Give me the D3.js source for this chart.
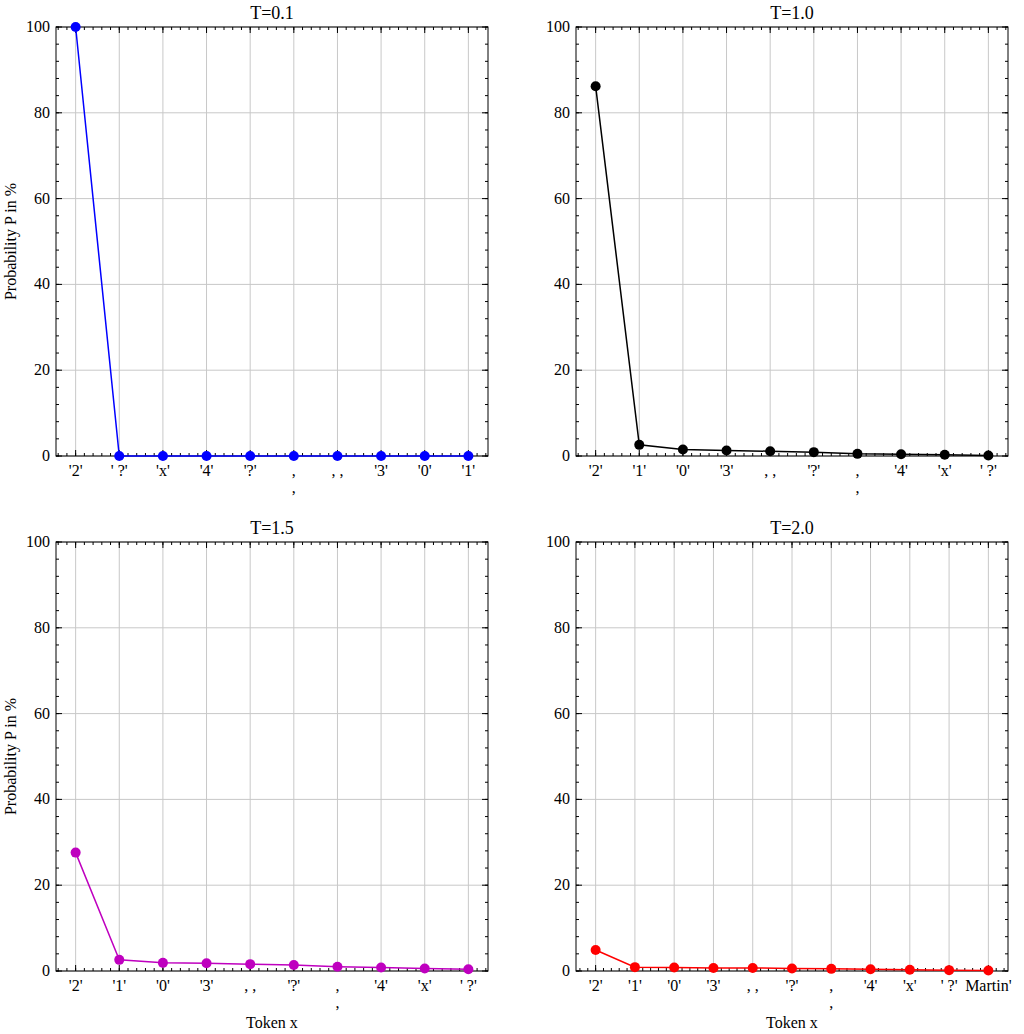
<!DOCTYPE html>
<html><head><meta charset="utf-8">
<script src="https://cdn.jsdelivr.net/npm/d3@7"></script>
<style>body{margin:0;background:#fff}text{font-family:"Liberation Serif",serif;fill:#000}</style>
</head><body>
<script>
// tokens & probabilities (%) per temperature
const tokens01 = ["'2'", "' ?'", "'x'", "'4'", "'?'", "NL", ", ,", "'3'", "'0'", "'1'"];
const probs01 = [100, 0, 0, 0, 0, 0, 0, 0, 0, 0];
const tokens10 = ["'2'", "'1'", "'0'", "'3'", ", ,", "'?'", "NL", "'4'", "'x'", "' ?'"];
const probs10 = [86.2, 2.6, 1.5, 1.3, 1.1, 0.9, 0.5, 0.4, 0.3, 0.1];
const tokens15 = ["'2'", "'1'", "'0'", "'3'", ", ,", "'?'", "NL", "'4'", "'x'", "' ?'"];
const probs15 = [27.6, 2.6, 1.9, 1.8, 1.6, 1.4, 1.0, 0.8, 0.6, 0.4];
const tokens20 = ["'2'", "'1'", "'0'", "'3'", ", ,", "'?'", "NL", "'4'", "'x'", "' ?'", "Martin'"];
const probs20 = [4.9, 0.9, 0.8, 0.7, 0.7, 0.6, 0.5, 0.4, 0.3, 0.2, 0.1];
const yTicks = [0, 20, 40, 60, 80, 100];

const panels = [
  {title: "T=0.1", tokens: tokens01, probs: probs01, color: "#0000ff", x0: 56, y0: 27, ylab: true, xlab: false},
  {title: "T=1.0", tokens: tokens10, probs: probs10, color: "#000000", x0: 576, y0: 27, ylab: false, xlab: false},
  {title: "T=1.5", tokens: tokens15, probs: probs15, color: "#bf00bf", x0: 56, y0: 542, ylab: true, xlab: true},
  {title: "T=2.0", tokens: tokens20, probs: probs20, color: "#ff0000", x0: 576, y0: 542, ylab: false, xlab: true}
];
const pw = 432, ph = 429;
const fs = 16;

const svg = d3.select("body").append("svg").attr("width", 1024).attr("height", 1034);

panels.forEach(p => {
  const g = svg.append("g").attr("transform", `translate(${p.x0},${p.y0})`);
  const n = p.tokens.length;
  const pad = 0.05 * (n - 1);
  const x = d3.scaleLinear().domain([-pad, n - 1 + pad]).range([0, pw]);
  const y = d3.scaleLinear().domain([0, 100]).range([ph, 0]);

  // grid
  g.selectAll(".gx").data(d3.range(n)).join("line")
    .attr("x1", d => x(d)).attr("x2", d => x(d)).attr("y1", 0).attr("y2", ph)
    .attr("stroke", "#c8c8c8").attr("stroke-width", 1);
  g.selectAll(".gy").data(yTicks).join("line")
    .attr("x1", 0).attr("x2", pw).attr("y1", d => y(d)).attr("y2", d => y(d))
    .attr("stroke", "#c8c8c8").attr("stroke-width", 1);

  // ticks (inward, all sides)
  const minorY = d3.range(0, 101, 4);
  [0, pw].forEach(xx => {
    const dir = xx === 0 ? 1 : -1;
    g.selectAll(null).data(minorY).join("line")
      .attr("x1", xx).attr("x2", xx + dir * 3).attr("y1", d => y(d)).attr("y2", d => y(d)).attr("stroke", "#000");
    g.selectAll(null).data(yTicks).join("line")
      .attr("x1", xx).attr("x2", xx + dir * 6).attr("y1", d => y(d)).attr("y2", d => y(d)).attr("stroke", "#000");
  });
  const minorX = d3.range(Math.ceil(-pad * 5) / 5, n - 1 + pad, 0.2);
  [0, ph].forEach(yy => {
    const dir = yy === 0 ? 1 : -1;
    g.selectAll(null).data(minorX).join("line")
      .attr("y1", yy).attr("y2", yy + dir * 3).attr("x1", d => x(d)).attr("x2", d => x(d)).attr("stroke", "#000");
    g.selectAll(null).data(d3.range(n)).join("line")
      .attr("y1", yy).attr("y2", yy + dir * 6).attr("x1", d => x(d)).attr("x2", d => x(d)).attr("stroke", "#000");
  });

  g.append("rect").attr("width", pw).attr("height", ph).attr("fill", "none").attr("stroke", "#000");

  // y labels
  g.selectAll(".yl").data(yTicks).join("text")
    .attr("x", -6).attr("y", d => y(d) + 5).attr("text-anchor", "end").attr("font-size", fs).text(d => d);
  // x labels
  p.tokens.forEach((t, i) => {
    if (t === "NL") {
      g.append("text").attr("x", x(i)).attr("y", ph + 20).attr("text-anchor", "middle").attr("font-size", fs).text(",");
      g.append("text").attr("x", x(i)).attr("y", ph + 37).attr("text-anchor", "middle").attr("font-size", fs).text(",");
    } else {
      g.append("text").attr("x", x(i)).attr("y", ph + 20).attr("text-anchor", "middle").attr("font-size", fs).text(t);
    }
  });

  // line + markers
  g.append("path").datum(p.probs)
    .attr("d", d3.line().x((d, i) => x(i)).y(d => y(d)))
    .attr("fill", "none").attr("stroke", p.color).attr("stroke-width", 1.5);
  g.selectAll(".pt").data(p.probs).join("circle")
    .attr("cx", (d, i) => x(i)).attr("cy", d => y(d)).attr("r", 5).attr("fill", p.color);

  g.append("text").attr("x", pw / 2).attr("y", -8).attr("text-anchor", "middle").attr("font-size", 18).text(p.title);
  if (p.ylab) g.append("text").attr("transform", `translate(-40,${ph / 2}) rotate(-90)`)
    .attr("text-anchor", "middle").attr("font-size", fs).text("Probability P in %");
  if (p.xlab) g.append("text").attr("x", pw / 2).attr("y", ph + 57)
    .attr("text-anchor", "middle").attr("font-size", fs).text("Token x");
});
</script>
</body></html>
